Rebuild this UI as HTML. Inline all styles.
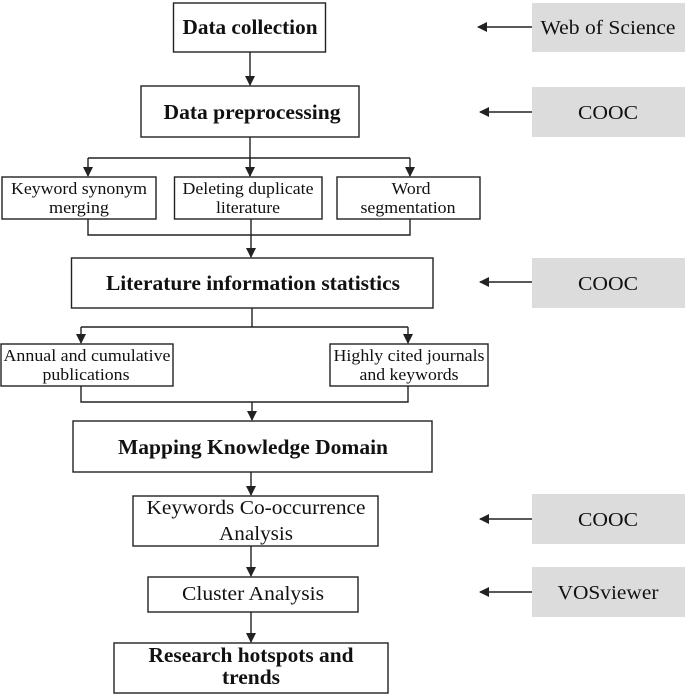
<!DOCTYPE html>
<html><head><meta charset="utf-8"><style>html,body{margin:0;padding:0;background:#fff}svg{display:block}</style></head>
<body>
<svg width="685" height="694" viewBox="0 0 685 694" xmlns="http://www.w3.org/2000/svg" font-family="'Liberation Serif', serif" fill="#111">
<defs><marker id="a" markerWidth="10" markerHeight="10" refX="9" refY="5" orient="auto" markerUnits="userSpaceOnUse"><path d="M0,0 L10,5 L0,10 Z" fill="#222"/></marker></defs>
<g fill="none" stroke="#222" stroke-width="1.4">
<rect x="173.5" y="3" width="152" height="49"/>
<rect x="141" y="86" width="218" height="51"/>
<rect x="2" y="177" width="154" height="42"/>
<rect x="174.5" y="177" width="147.5" height="42"/>
<rect x="337" y="177" width="143" height="42"/>
<rect x="71.5" y="258" width="361.5" height="50"/>
<rect x="1" y="344" width="172" height="42"/>
<rect x="330" y="344" width="158" height="42"/>
<rect x="73" y="421" width="359" height="51"/>
<rect x="133" y="496" width="245" height="50"/>
<rect x="148" y="577" width="210" height="35"/>
<rect x="114" y="643" width="274" height="50"/>
<!-- connectors -->
<path d="M250,52 V85" marker-end="url(#a)"/>
<path d="M250,137 V176"/>
<path d="M88,158 H410"/>
<path d="M88,158 V176" marker-end="url(#a)"/>
<path d="M250,158 V176" marker-end="url(#a)"/>
<path d="M410,158 V176" marker-end="url(#a)"/>
<path d="M88,219 V235 H410 V219"/>
<path d="M251,219 V257" marker-end="url(#a)"/>
<path d="M252,308 V327"/>
<path d="M81,327 H408"/>
<path d="M81,327 V343" marker-end="url(#a)"/>
<path d="M408,327 V343" marker-end="url(#a)"/>
<path d="M81,386 V402 H408 V386"/>
<path d="M252,402 V420" marker-end="url(#a)"/>
<path d="M251,472 V495" marker-end="url(#a)"/>
<path d="M251,546 V576" marker-end="url(#a)"/>
<path d="M251,612 V642" marker-end="url(#a)"/>
<path d="M532,27 H478" marker-end="url(#a)"/>
<path d="M532,112 H480" marker-end="url(#a)"/>
<path d="M532,282 H480" marker-end="url(#a)"/>
<path d="M532,519 H480" marker-end="url(#a)"/>
<path d="M532,592 H480" marker-end="url(#a)"/>
</g>
<g fill="#dcdcdc">
<rect x="532" y="3" width="153" height="49"/>
<rect x="532" y="87" width="153" height="50"/>
<rect x="532" y="258" width="153" height="50"/>
<rect x="532" y="494" width="153" height="50"/>
<rect x="532" y="567" width="153" height="50"/>
</g>
<g text-anchor="middle" font-weight="bold" font-size="21" lengthAdjust="spacingAndGlyphs">
<text x="250" y="34" textLength="135" lengthAdjust="spacingAndGlyphs">Data collection</text>
<text x="252" y="119" textLength="177" lengthAdjust="spacingAndGlyphs">Data preprocessing</text>
<text x="253" y="290" textLength="294" lengthAdjust="spacingAndGlyphs">Literature information statistics</text>
<text x="253" y="454" textLength="270" lengthAdjust="spacingAndGlyphs">Mapping Knowledge Domain</text>
<text x="251" y="662" textLength="205" lengthAdjust="spacingAndGlyphs">Research hotspots and</text>
<text x="251" y="684" textLength="58" lengthAdjust="spacingAndGlyphs">trends</text>
</g>
<g text-anchor="middle" font-size="17">
<text x="79" y="194" textLength="136" lengthAdjust="spacingAndGlyphs">Keyword synonym</text>
<text x="79" y="213" textLength="60" lengthAdjust="spacingAndGlyphs">merging</text>
<text x="248" y="194" textLength="131" lengthAdjust="spacingAndGlyphs">Deleting duplicate</text>
<text x="248" y="213" textLength="64" lengthAdjust="spacingAndGlyphs">literature</text>
<text x="411" y="194" textLength="39" lengthAdjust="spacingAndGlyphs">Word</text>
<text x="408" y="213" textLength="95" lengthAdjust="spacingAndGlyphs">segmentation</text>
<text x="87" y="361" textLength="167" lengthAdjust="spacingAndGlyphs">Annual and cumulative</text>
<text x="86" y="380" textLength="87" lengthAdjust="spacingAndGlyphs">publications</text>
<text x="409" y="361" textLength="151" lengthAdjust="spacingAndGlyphs">Highly cited journals</text>
<text x="409" y="380" textLength="99" lengthAdjust="spacingAndGlyphs">and keywords</text>
</g>
<g text-anchor="middle" font-size="20">
<text x="256" y="514" textLength="219" lengthAdjust="spacingAndGlyphs">Keywords Co-occurrence</text>
<text x="256" y="540" textLength="74" lengthAdjust="spacingAndGlyphs">Analysis</text>
<text x="253" y="600" textLength="142" lengthAdjust="spacingAndGlyphs">Cluster Analysis</text>
<text x="608" y="34" textLength="135" lengthAdjust="spacingAndGlyphs">Web of Science</text>
<text x="608" y="119" textLength="60" lengthAdjust="spacingAndGlyphs">COOC</text>
<text x="608" y="290" textLength="60" lengthAdjust="spacingAndGlyphs">COOC</text>
<text x="608" y="526" textLength="60" lengthAdjust="spacingAndGlyphs">COOC</text>
<text x="608" y="599" textLength="101" lengthAdjust="spacingAndGlyphs">VOSviewer</text>
</g>
</svg>
</body></html>
